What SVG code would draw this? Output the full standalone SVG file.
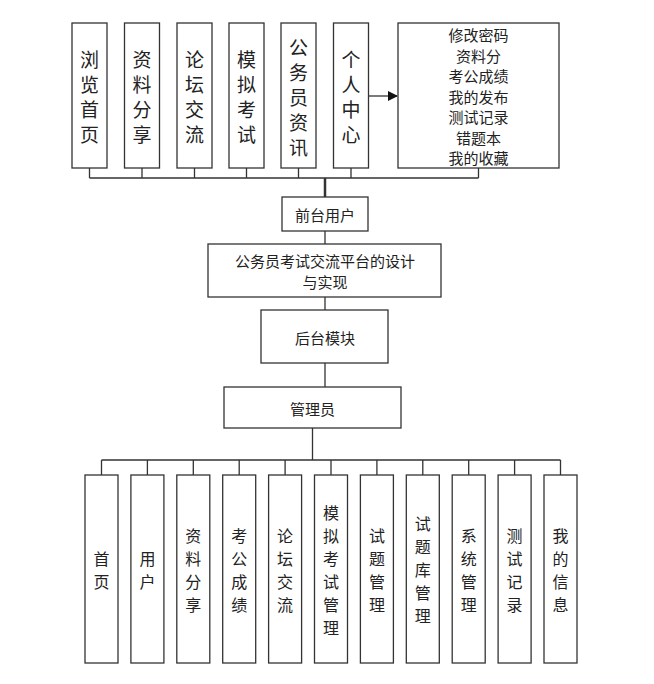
<svg xmlns="http://www.w3.org/2000/svg" width="654" height="684" viewBox="0 0 654 684">
<style>
rect{fill:#fff;stroke:#333;stroke-width:1.3}
.c line,.c path{stroke:#333;stroke-width:1.3;fill:none}
text{font-family:"Noto Sans CJK SC","Liberation Sans",sans-serif;fill:#222;text-anchor:middle;dominant-baseline:central}
.t{font-size:19px}.b{font-size:16px}.m{font-size:15px}
</style>
<defs><marker id="a" markerWidth="10" markerHeight="10" refX="9" refY="5" orient="auto" markerUnits="userSpaceOnUse"><path d="M0,0 L10,5 L0,10z" fill="#111"/></marker></defs>
<rect width="654" height="684" style="fill:#fff;stroke:none"/>
<g class="c">
<path d="M89.5,168V178M142,168V178M194.5,168V178M246.5,168V178M298.5,168V178M351,168V178M478.5,168V178M89.5,178H478.5"/>
<path d="M325,178V197" style="stroke-width:2.5"/>
<path d="M325,231V244M325,297V310M325,363V387M312.5,428V460M101.5,460H560.5"/>
<path d="M101.5,460V475M147.4,460V475M193.3,460V475M239.2,460V475M285.1,460V475M331,460V475M376.9,460V475M422.8,460V475M468.7,460V475M514.6,460V475M560.5,460V475"/>
<line x1="368" y1="96" x2="397" y2="96" marker-end="url(#a)"/>
</g>
<g id="n1"><rect x="72" y="23" width="35" height="145"/><text class="t"><tspan x="89.5" y="58">浏</tspan><tspan x="89.5" dy="25">览</tspan><tspan x="89.5" dy="25">首</tspan><tspan x="89.5" dy="25">页</tspan></text></g>
<g id="n2"><rect x="124.5" y="23" width="35" height="145"/><text class="t"><tspan x="142" y="58">资</tspan><tspan x="142" dy="25">料</tspan><tspan x="142" dy="25">分</tspan><tspan x="142" dy="25">享</tspan></text></g>
<g id="n3"><rect x="177" y="23" width="35" height="145"/><text class="t"><tspan x="194.5" y="58">论</tspan><tspan x="194.5" dy="25">坛</tspan><tspan x="194.5" dy="25">交</tspan><tspan x="194.5" dy="25">流</tspan></text></g>
<g id="n4"><rect x="229" y="23" width="35" height="145"/><text class="t"><tspan x="246.5" y="58">模</tspan><tspan x="246.5" dy="25">拟</tspan><tspan x="246.5" dy="25">考</tspan><tspan x="246.5" dy="25">试</tspan></text></g>
<g id="n5"><rect x="281" y="23" width="35" height="145"/><text class="t"><tspan x="298.5" y="45.5">公</tspan><tspan x="298.5" dy="25">务</tspan><tspan x="298.5" dy="25">员</tspan><tspan x="298.5" dy="25">资</tspan><tspan x="298.5" dy="25">讯</tspan></text></g>
<g id="n6"><rect x="333.5" y="23" width="35" height="145"/><text class="t"><tspan x="351" y="58">个</tspan><tspan x="351" dy="25">人</tspan><tspan x="351" dy="25">中</tspan><tspan x="351" dy="25">心</tspan></text></g>
<g id="n7"><rect x="398" y="23" width="161" height="145"/><text class="m"><tspan x="478.5" y="34">修改密码</tspan><tspan x="478.5" dy="20.5">资料分</tspan><tspan x="478.5" dy="20.5">考公成绩</tspan><tspan x="478.5" dy="20.5">我的发布</tspan><tspan x="478.5" dy="20.5">测试记录</tspan><tspan x="478.5" dy="20.5">错题本</tspan><tspan x="478.5" dy="20.5">我的收藏</tspan></text></g>
<g id="front"><rect x="282" y="197" width="86" height="34"/><text class="m" x="325" y="214">前台用户</text></g>
<g id="main"><rect x="208" y="244" width="233" height="53"/><text class="m"><tspan x="325" y="260">公务员考试交流平台的设计</tspan><tspan x="325" dy="21">与实现</tspan></text></g>
<g id="back"><rect x="261" y="310" width="127" height="53"/><text class="m" x="325" y="337">后台模块</text></g>
<g id="admin"><rect x="224" y="387" width="177" height="41"/><text class="m" x="312.5" y="408">管理员</text></g>
<g id="b1"><rect x="85" y="475" width="33" height="188"/><text class="b"><tspan x="101.5" y="557.5">首</tspan><tspan x="101.5" dy="23">页</tspan></text></g>
<g id="b2"><rect x="130.9" y="475" width="33" height="188"/><text class="b"><tspan x="147.4" y="557.5">用</tspan><tspan x="147.4" dy="23">户</tspan></text></g>
<g id="b3"><rect x="176.8" y="475" width="33" height="188"/><text class="b"><tspan x="193.3" y="534.5">资</tspan><tspan x="193.3" dy="23">料</tspan><tspan x="193.3" dy="23">分</tspan><tspan x="193.3" dy="23">享</tspan></text></g>
<g id="b4"><rect x="222.7" y="475" width="33" height="188"/><text class="b"><tspan x="239.2" y="534.5">考</tspan><tspan x="239.2" dy="23">公</tspan><tspan x="239.2" dy="23">成</tspan><tspan x="239.2" dy="23">绩</tspan></text></g>
<g id="b5"><rect x="268.6" y="475" width="33" height="188"/><text class="b"><tspan x="285.1" y="534.5">论</tspan><tspan x="285.1" dy="23">坛</tspan><tspan x="285.1" dy="23">交</tspan><tspan x="285.1" dy="23">流</tspan></text></g>
<g id="b6"><rect x="314.5" y="475" width="33" height="188"/><text class="b"><tspan x="331" y="511.5">模</tspan><tspan x="331" dy="23">拟</tspan><tspan x="331" dy="23">考</tspan><tspan x="331" dy="23">试</tspan><tspan x="331" dy="23">管</tspan><tspan x="331" dy="23">理</tspan></text></g>
<g id="b7"><rect x="360.4" y="475" width="33" height="188"/><text class="b"><tspan x="376.9" y="534.5">试</tspan><tspan x="376.9" dy="23">题</tspan><tspan x="376.9" dy="23">管</tspan><tspan x="376.9" dy="23">理</tspan></text></g>
<g id="b8"><rect x="406.3" y="475" width="33" height="188"/><text class="b"><tspan x="422.8" y="523">试</tspan><tspan x="422.8" dy="23">题</tspan><tspan x="422.8" dy="23">库</tspan><tspan x="422.8" dy="23">管</tspan><tspan x="422.8" dy="23">理</tspan></text></g>
<g id="b9"><rect x="452.2" y="475" width="33" height="188"/><text class="b"><tspan x="468.7" y="534.5">系</tspan><tspan x="468.7" dy="23">统</tspan><tspan x="468.7" dy="23">管</tspan><tspan x="468.7" dy="23">理</tspan></text></g>
<g id="b10"><rect x="498.1" y="475" width="33" height="188"/><text class="b"><tspan x="514.6" y="534.5">测</tspan><tspan x="514.6" dy="23">试</tspan><tspan x="514.6" dy="23">记</tspan><tspan x="514.6" dy="23">录</tspan></text></g>
<g id="b11"><rect x="544" y="475" width="33" height="188"/><text class="b"><tspan x="560.5" y="534.5">我</tspan><tspan x="560.5" dy="23">的</tspan><tspan x="560.5" dy="23">信</tspan><tspan x="560.5" dy="23">息</tspan></text></g>
</svg>
